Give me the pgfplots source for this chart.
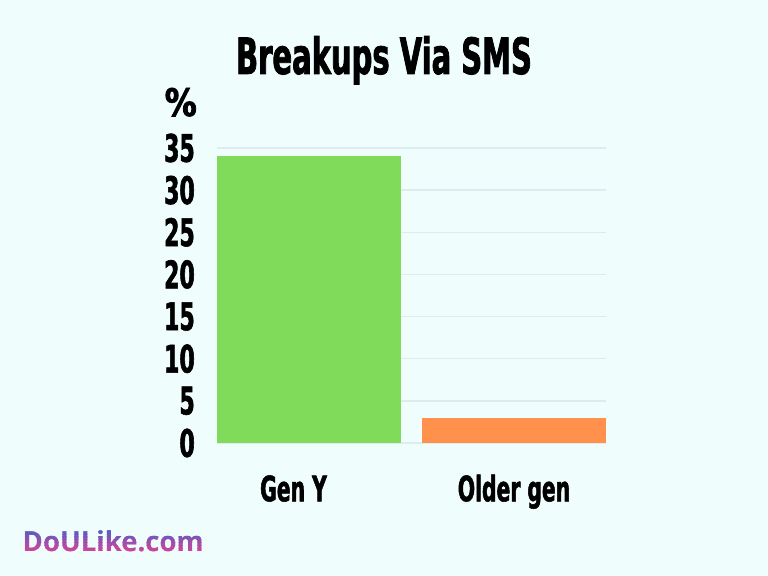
\documentclass[border=0pt]{standalone}
\usepackage{graphicx}
\usepackage{pgfplots}
\pgfplotsset{compat=1.18}
\usepackage{fontspec}
\newfontfamily\anton{DejaVu Sans}[FakeStretch=0.58, BoldFeatures={FakeBold=1.5}]
\newfontfamily\wmfont{Open Sans}
\definecolor{bgc}{RGB}{240,253,253}
\definecolor{gridc}{RGB}{221,236,238}
\definecolor{greenbar}{RGB}{128,219,90}
\definecolor{orangebar}{RGB}{255,145,77}
\definecolor{wmblue}{RGB}{72,96,200}
\definecolor{wmpink}{RGB}{220,66,152}
\begin{document}
\begin{tikzpicture}
\fill[bgc] (0,0) rectangle (768bp,576bp);
\begin{axis}[
  at={(217bp,133bp)}, anchor=south west,
  scale only axis, width=389bp, height=295bp,
  xmin=-0.4488, xmax=1.4488, ymin=0, ymax=35,
  axis line style={draw=none},
  tick style={draw=none},
  ymajorgrids, grid style={color=gridc, line width=1.3bp},
  ytick={0,5,...,35},
  xtick={-0.0756,1},
  xticklabels={Gen Y, Older gen},
  /pgf/number format/assume math mode=true,
  yticklabel style={font=\anton\bfseries\fontsize{38bp}{40bp}\selectfont, inner sep=0pt, xshift=-22bp},
  xticklabel style={font=\anton\bfseries\fontsize{35bp}{38bp}\selectfont, inner sep=0pt, anchor=base, yshift=-54bp},
  ybar, bar shift=0pt, bar width=0.8976,
  clip=false,
]
\addplot[fill=greenbar, draw=none] coordinates {(0,34)};
\addplot[fill=orangebar, draw=none] coordinates {(1,3)};
\end{axis}
\node[anchor=base east, inner sep=0pt, font=\anton\bfseries\fontsize{38bp}{40bp}\selectfont] at (197bp,460bp) {\scalebox{1.45}[1]{\%}};
\node[anchor=base, inner sep=0pt, font=\anton\bfseries\fontsize{50bp}{60bp}\selectfont] at (384bp,502bp) {Breakups Via SMS};
\foreach \i in {0,...,9}{
  \pgfmathsetmacro\ya{22+2.8*\i}
  \pgfmathsetmacro\yb{22+2.8*\i+3.0}
  \pgfmathsetmacro\pct{\i*100/9}
  \begin{scope}
    \clip (0bp,\ya bp) rectangle (300bp,\yb bp);
    \node[anchor=base west, inner sep=0pt, text=wmblue!\pct!wmpink, font=\wmfont\bfseries\fontsize{27.5bp}{30bp}\selectfont] at (22.5bp,25bp) {DoULike.com};
  \end{scope}
}
\end{tikzpicture}
\end{document}
